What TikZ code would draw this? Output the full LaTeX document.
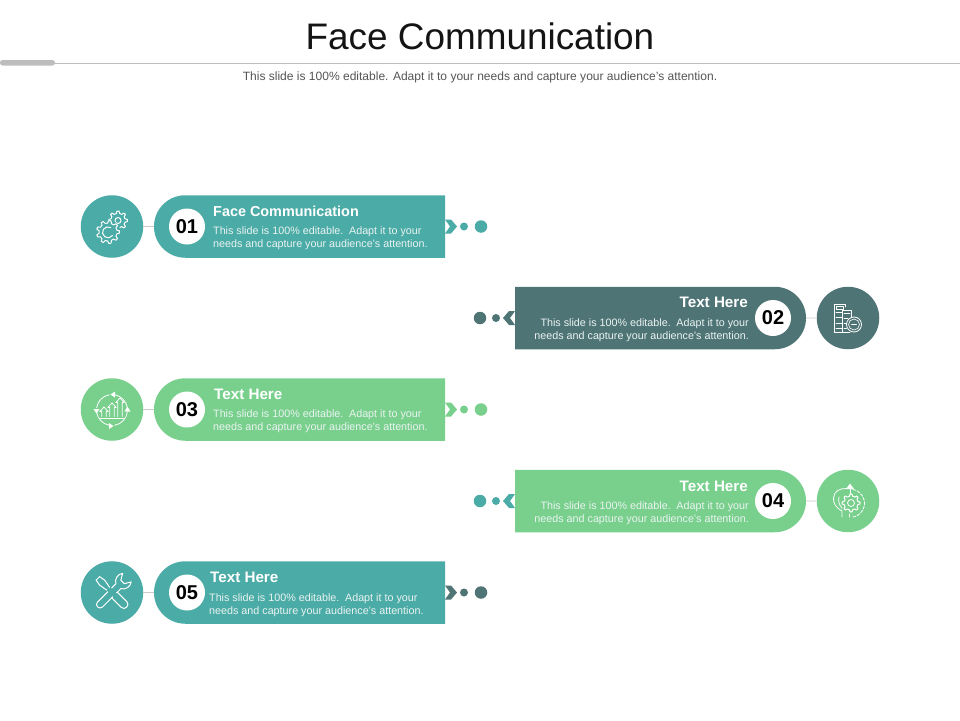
\documentclass[tikz,border=0pt]{standalone}
\usepackage{fontspec}
\setmainfont{Liberation Sans}
\usetikzlibrary{shapes.misc}
\definecolor{teal1}{HTML}{4BABA6}
\definecolor{slate1}{HTML}{4F7475}
\definecolor{green1}{HTML}{79D08D}
\definecolor{rulegray}{HTML}{BDBDBD}
\definecolor{bodygray}{HTML}{555555}
\definecolor{paletxt}{HTML}{EAF3F2}
\newcommand{\lineA}{This slide is 100\% editable. \hspace{1.7pt}Adapt it to your}
\newcommand{\lineB}{needs and capture your audience's attention.}
\tikzset{
  icondisc/.style={circle,inner sep=0pt,minimum size=62.5pt,fill=#1},
  numdisc/.style={circle,inner sep=0pt,minimum size=36pt,fill=white,font=\fontsize{20}{20}\selectfont\bfseries,text=black},
  pillleft/.style={rounded rectangle,rounded rectangle east arc=none,inner sep=0pt,minimum width=291pt,minimum height=62.5pt,fill=#1},
  pillright/.style={rounded rectangle,rounded rectangle west arc=none,inner sep=0pt,minimum width=291pt,minimum height=62.5pt,fill=#1},
  headtext/.style={text=white,font=\fontsize{14.4}{14.4}\selectfont\bfseries,inner sep=0pt},
  headtextb/.style={text=white,font=\fontsize{15.2}{15.2}\selectfont\bfseries,inner sep=0pt},
  bodytext/.style={text=paletxt,font=\fontsize{10.75}{10.75}\selectfont,inner sep=0pt},
  linker/.style={draw=rulegray!80!white,line width=0.8pt},
  dotS/.style={circle,inner sep=0pt,minimum size=8pt,fill=#1},
  dotL/.style={circle,inner sep=0pt,minimum size=12.5pt,fill=#1},
  iconline/.style={draw=white,line width=1pt,line join=round,line cap=round},
}
% gear outline: cx cy outer-radius inner-radius teeth-step
\newcommand{\gearpath}[5]{%
  \draw[iconline,shift={(#1,#2)}] (0:#3)
  \foreach \a in {0,#5,...,359}{
    -- (\a+0.14*#5:#3) -- (\a+0.3*#5:#4) -- (\a+0.7*#5:#4) -- (\a+0.86*#5:#3)
    -- (\a+#5:#3)
  } -- cycle;
}
\newcommand{\chevR}[3]{\fill[#3] (#1,#2-7) -- (#1+6,#2-7) -- (#1+12,#2) -- (#1+6,#2+7) -- (#1,#2+7) -- (#1+5,#2) -- cycle;}
\newcommand{\chevL}[3]{\fill[#3] (#1,#2-7) -- (#1-6,#2-7) -- (#1-12,#2) -- (#1-6,#2+7) -- (#1,#2+7) -- (#1-5,#2) -- cycle;}
\newcommand{\uparrowicon}[3]{% x base top
  \draw[iconline,line width=.8pt] (#1-2.2,#2) -- (#1-2.2,#3+4.5) -- (#1-4.2,#3+4.5) -- (#1,#3) -- (#1+4.2,#3+4.5) -- (#1+2.2,#3+4.5) -- (#1+2.2,#2);
}
\newcommand{\ringarc}[2]{\draw[iconline,line width=.8pt] ([shift={(#1:15.5)}]112,410) arc (#1:#2:15.5);}
\begin{document}
\begin{tikzpicture}[x=1pt,y=-1pt]
\useasboundingbox (0,0) rectangle (960,720);
\fill[white] (0,0) rectangle (960,720);

% header
\node[inner sep=0pt,font=\fontsize{36.9}{36.9}\selectfont,text=black!92] (title) at (480,36) {Face Communication};
\coordinate (ruleL) at (50,63.5);
\coordinate (ruleR) at (960,63.5);
\draw[rulegray,line width=1pt] (ruleL) -- (ruleR);
\fill[rulegray,rounded corners=2.6pt] (0,60) rectangle (55,65.5);
\node[inner sep=0pt,font=\fontsize{12.03}{12.03}\selectfont,text=bodygray] (sub) at (480,77) {This slide is 100\% editable. Adapt it to your needs and capture your audience's attention.};

% ---- row 1
\node[icondisc=teal1] (ic1) at (112,226.5) {};
\node[pillleft=teal1] (p1) at (299.5,226.5) {};
\draw[linker] (ic1) -- (p1);
\node[numdisc] (n1) at (187,226.5) {01};
\node[headtext,anchor=base west] (h1) at (213,216.5) {Face Communication};
\node[bodytext,anchor=base west] (b1a) at (213,234) {\lineA};
\node[bodytext,anchor=base west] (b1b) at (213,247) {\lineB};
\chevR{445}{226.5}{teal1}
\node[dotS=teal1] (d1a) at (464,226.5) {};
\node[dotL=teal1] (d1b) at (481,226.5) {};
\gearpath{118}{220.5}{9.5}{7.2}{45}
\draw[iconline] (118,220.5) circle (3);
\fill[teal1] (108,232) circle (12.5);
\gearpath{108}{232}{11.5}{9}{40}
\draw[iconline] (112.5,235.5) arc (35:300:5.5);

% ---- row 2
\node[icondisc=slate1] (ic2) at (848,318) {};
\node[pillright=slate1] (p2) at (660.5,318) {};
\draw[linker] (ic2) -- (p2);
\node[numdisc] (n2) at (773,318) {02};
\node[headtextb,anchor=base east] (h2) at (748,307.5) {Text Here};
\node[bodytext,anchor=base east] (b2a) at (749,326) {\lineA};
\node[bodytext,anchor=base east] (b2b) at (749,339) {\lineB};
\chevL{515}{318}{slate1}
\node[dotS=slate1] (d2a) at (496,318) {};
\node[dotL=slate1] (d2b) at (480,318) {};
\draw[iconline,line width=.8pt] (845,307) -- (845,304) -- (834,304) -- (834,332.5) -- (850,332.5);
\draw[iconline,line width=.8pt] (842,332) -- (842,310) -- (851.5,310) -- (851.5,317);
\draw[iconline,line width=.8pt] (836,306.5) rectangle (843,309);
\draw[iconline,line width=.8pt] (836,312) -- (842,312) (836,317.5) -- (842,317.5) (836,323) -- (842,323) (836,328) -- (842,328);
\draw[iconline,line width=.8pt] (844,313) -- (850,313) (844,318) -- (848,318) (844,323) -- (846.5,323) (844,328) -- (846.5,328);
\draw[iconline,line width=.8pt] (854,324.5) circle (7.5);
\draw[iconline,line width=.6pt] (854,324.5) circle (5.5);
\draw[iconline,line width=.8pt] (851.5,324.5) -- (856.5,324.5);

% ---- row 3
\node[icondisc=green1] (ic3) at (112,409.5) {};
\node[pillleft=green1] (p3) at (299.5,409.5) {};
\draw[linker] (ic3) -- (p3);
\node[numdisc] (n3) at (187,409.5) {03};
\node[headtextb,anchor=base west] (h3) at (214,399.5) {Text Here};
\node[bodytext,anchor=base west] (b3a) at (213,417) {\lineA};
\node[bodytext,anchor=base west] (b3b) at (213,430) {\lineB};
\chevR{445}{409.5}{green1}
\node[dotS=green1] (d3a) at (464,409.5) {};
\node[dotL=green1] (d3b) at (481,409.5) {};
\ringarc{-80}{-8}
\ringarc{8}{80}
\ringarc{100}{172}
\ringarc{188}{260}
\fill[white] (115,391.5) -- (115,397.5) -- (110.5,394.5) -- cycle;
\fill[white] (127.5,406.5) -- (130.5,411.5) -- (124.5,411.5) -- cycle;
\fill[white] (109,423) -- (109,429) -- (113.5,426) -- cycle;
\fill[white] (93.5,409) -- (99.5,409) -- (96.5,413.5) -- cycle;
\uparrowicon{104}{416.5}{407}
\uparrowicon{112}{416.5}{403}
\uparrowicon{120}{416.5}{398}
\draw[iconline,line width=.8pt] (100,418.5) -- (124,418.5);

% ---- row 4
\node[icondisc=green1] (ic4) at (848,501) {};
\node[pillright=green1] (p4) at (660.5,501) {};
\draw[linker] (ic4) -- (p4);
\node[numdisc] (n4) at (773,501) {04};
\node[headtextb,anchor=base east] (h4) at (748,491.5) {Text Here};
\node[bodytext,anchor=base east] (b4a) at (749,509) {\lineA};
\node[bodytext,anchor=base east] (b4b) at (749,522) {\lineB};
\chevL{515}{501}{teal1}
\node[dotS=teal1] (d4a) at (496,501) {};
\node[dotL=teal1] (d4b) at (480,501) {};
\draw[iconline,line width=.8pt] (842,517) -- (842,511) .. controls (836,508) and (833,503) .. (833.5,498) .. controls (834,491) and (840,488) .. (847,488.5);
\draw[iconline,line width=.8pt] (839,497) .. controls (838,501) and (839,505) .. (842,508);
\gearpath{851}{503}{9}{7}{45}
\draw[iconline,line width=.8pt] (851,503) circle (3.5);
\draw[iconline,line width=.8pt] (850,494) -- (850,486);
\fill[white] (850,483.5) -- (854,489) -- (846,489) -- cycle;
\draw[iconline,line width=.8pt,dash pattern=on 3pt off 1.5pt] (853,489.5) arc (-80:85:14);
\draw[iconline,line width=.8pt] (849,517) -- (849,514);

% ---- row 5
\node[icondisc=teal1] (ic5) at (112,592.5) {};
\node[pillleft=teal1] (p5) at (299.5,592.5) {};
\draw[linker] (ic5) -- (p5);
\node[numdisc] (n5) at (187,592.5) {05};
\node[headtextb,anchor=base west] (h5) at (210,582.5) {Text Here};
\node[bodytext,anchor=base west] (b5a) at (209,601) {\lineA};
\node[bodytext,anchor=base west] (b5b) at (209,614) {\lineB};
\chevR{445}{592.5}{slate1}
\node[dotS=slate1] (d5a) at (464,592.5) {};
\node[dotL=slate1] (d5b) at (481,592.5) {};
% screwdriver, long axis from upper left to lower right
\begin{scope}[shift={(112,592.5)},rotate=-45]
  \draw[iconline] (-20,-2.5) -- (-14,-3.5) -- (-4,-1.8) -- (3,-1.8) -- (4,-4) -- (17,-4) .. controls (22,-4) and (22,4) .. (17,4) -- (4,4) -- (3,1.8) -- (-4,1.8) -- (-14,3.5) -- (-20,2.5) -- cycle;
\end{scope}
% wrench
\begin{scope}[shift={(112,592.5)},rotate=45]
  \fill[teal1] (-3,-5) rectangle (3,5);
  \draw[iconline] (-2.5,-3.5) -- (-17,-3.5) .. controls (-21.5,-3.5) and (-21.5,3.5) .. (-17,3.5) -- (-2.5,3.5);
  \draw[iconline] (3,-3.5) -- (9,-3.5) .. controls (11,-8) and (18,-9) .. (21,-6) -- (15,-2.5) -- (15,2.5) -- (21,6) .. controls (18,9) and (11,8) .. (9,3.5) -- (3,3.5);
\end{scope}
\end{tikzpicture}
\end{document}
